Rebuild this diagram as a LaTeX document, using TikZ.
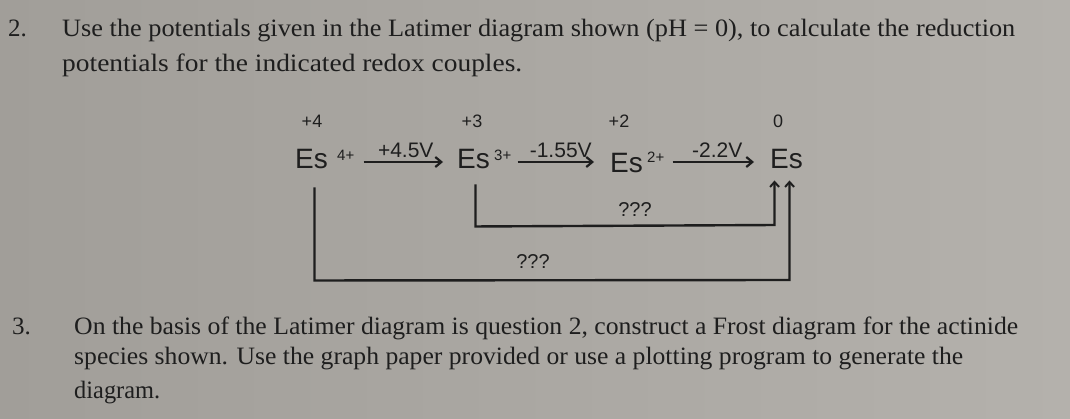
\documentclass[tikz,border=0pt]{standalone}
\usepackage{fontspec}
\setmainfont{Liberation Serif}
\newfontfamily\dsans{Liberation Sans}
\usetikzlibrary{arrows.meta}
\definecolor{bgL}{HTML}{A19E99}
\definecolor{bgR}{HTML}{B4B1AC}
\definecolor{ink}{HTML}{1E1E1E}
\newcommand\fitw[2]{\resizebox{#1}{\height}{#2}}
\begin{document}
\begin{tikzpicture}[x=1pt,y=-1pt,
  qtext/.style={anchor=base west,inner sep=0pt,text=ink,font=\fontsize{25}{28}\selectfont},
  species/.style={anchor=base west,inner sep=0pt,text=ink,font=\dsans\fontsize{28}{30}\selectfont},
  charge/.style={anchor=base west,inner sep=0pt,text=ink,font=\dsans\fontsize{15}{17}\selectfont},
  oxnum/.style={anchor=base,inner sep=0pt,text=ink,font=\dsans\fontsize{18}{20}\selectfont},
  potlabel/.style={above=3pt,inner sep=0pt,text=ink,font=\dsans\fontsize{21}{23}\selectfont},
  qmark/.style={inner sep=0pt,text=ink,font=\dsans\fontsize{20}{22}\selectfont},
  rxarrow/.style={draw=ink,line width=2.6pt,-{Straight Barb[length=6pt,width=10pt,line width=2.2pt]}},
  bracket/.style={draw=ink,line width=2.4pt,-{Straight Barb[length=5pt,width=9pt,line width=2pt]}}]
\shade[left color=bgL,right color=bgR] (0,0) rectangle (1070,418);
\useasboundingbox (0,0) rectangle (1070,418);
% question 2
\node[qtext] (n2) at (8,36) {2.};
\node[qtext] (q2a) at (62,36) {\fitw{953pt}{Use the potentials given in the Latimer diagram shown (pH = 0), to calculate the reduction}};
\node[qtext] (q2b) at (62,71) {\fitw{460pt}{potentials for the indicated redox couples.}};
% oxidation numbers
\node[oxnum] (ox4) at (312,127) {+4};
\node[oxnum] (ox3) at (472,127) {+3};
\node[oxnum] (ox2) at (619,127) {+2};
\node[oxnum] (ox0) at (778,127) {0};
% species
\node[species] (es4) at (295,168) {Es};
\node[charge] (c4) at (337,160) {4+};
\node[species] (es3) at (457,168) {Es};
\node[charge] (c3) at (494,160) {3+};
\node[species] (es2) at (610,172) {Es};
\node[charge] (c2) at (647,162) {2+};
\node[species] (es0) at (770,168) {Es};
% reaction arrows
\draw[rxarrow,shorten <=9pt,shorten >=14pt] (c4.east|-{0,162}) -- node[potlabel] (p43) {+4.5V} (es3.west|-{0,162});
\draw[rxarrow,shorten <=6pt,shorten >=16pt] (c3.east|-{0,162}) -- node[potlabel] (p32) {-1.55V} (es2.west|-{0,162});
\draw[rxarrow,shorten <=8pt,shorten >=16pt] (c2.east|-{0,162}) -- node[potlabel] (p20) {-2.2V} (es0.west|-{0,162});
% couples
\coordinate (oin) at ([xshift=-12pt,yshift=-12pt]es0.south);
\coordinate (oout) at ([xshift=3pt,yshift=-12pt]es0.south);
\draw[bracket] ([xshift=3pt,yshift=-19pt]es4.south) -- ++(0,93) -- ([yshift=-2pt]oout|-{0,278}) -- (oout);
\draw[bracket] ([xshift=2pt,yshift=-16pt]es3.south) -- ++(0,42) -- (oin|-{0,225}) -- (oin);
\node[qmark] (qin) at (635,210) {???};
\node[qmark] (qout) at (533,262) {???};
% question 3
\node[qtext] (n3) at (12,334) {3.};
\node[qtext] (q3a) at (74,334) {\fitw{944pt}{On the basis of the Latimer diagram is question 2, construct a Frost diagram for the actinide}};
\node[qtext] (q3b) at (74,364) {\fitw{889pt}{species shown. Use the graph paper provided or use a plotting program to generate the}};
\node[qtext] (q3c) at (74,398) {\fitw{86pt}{diagram.}};
\end{tikzpicture}
\end{document}
